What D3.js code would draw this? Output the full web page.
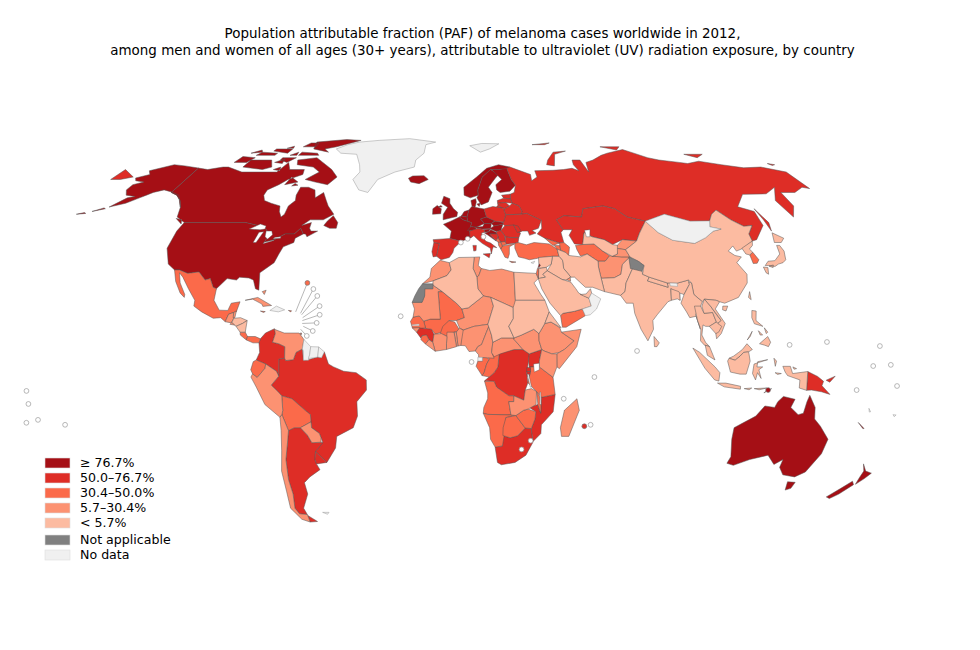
<!DOCTYPE html>
<html><head><meta charset="utf-8">
<script src="https://cdn.jsdelivr.net/npm/d3@7"></script>
<style>html,body{margin:0;background:#fff}svg{display:block}text{font-family:"DejaVu Sans";fill:#000}</style>
</head><body><svg id="c" width="980" height="650"></svg>
<script>
const titleLines=["Population attributable fraction (PAF) of melanoma cases worldwide in 2012,","among men and women of all ages (30+ years), attributable to ultraviolet (UV) radiation exposure, by country"];
const legendLabels=["≥ 76.7%","50.0–76.7%","30.4–50.0%","5.7–30.4%","< 5.7%","Not applicable","No data"];
const classColors=["#a50f15","#de2d26","#fb6a4a","#fc9272","#fcbba1","#808080","#f0f0f0"];
const plen=[0,.062,.124,.186,.248,.31,.372,.434,.4958,.5571,.6176,.6769,.7346,.7903,.8435,.8936,.9394,.9761,1];
const plat=[1,.9986,.9954,.99,.9822,.973,.96,.9427,.9216,.8962,.8679,.835,.7986,.7597,.7186,.6732,.6213,.5722,.5322];

// Country outlines, lon,lat; "|" separates rings. One table per PAF class.
const classTop={
Canada:"-141,69.6 -135,69 -128,70 -125,70 -115,68 -108,68 -102,68 -96,68 -94,72 -90,69 -85,69 -82,69 -81,67 -87,65 -90,63 -94,61 -94,59 -92,57 -88,56 -83,55 -82,53 -80,51 -79,52 -79,55 -77,57 -78,59 -78,62 -74,62 -70,61 -68,58 -65,60 -62,57 -60,55 -56,52 -60,50 -66,50 -69,48 -65,49 -65,47 -64,46 -61,46 -65,44 -66,45 -67,45 -69,47 -71,45 -75,45 -79,43 -83,42 -82,45 -85,47 -89,48 -95,49 -123,49 -128,51 -130,54.5 -133,57 -137,59 -141,60|-62,66 -65,63 -72,64 -78,65 -73,68 -78,70 -88,71 -90,73 -80,74 -72,71 -67,69|-117,70 -105,69 -101,70 -105,73 -117,73|-62,82.5 -72,83 -90,81.5 -87,78 -76,76.5 -80,78 -74,79|-125,72 -118,72 -116,74 -124,74.5|-92,75 -80,75 -82,76 -92,76.5|-100,73 -95,72 -92,74 -100,74|-95,79 -87,79 -88,81 -93,81|-117,75 -106,75 -106,76 -116,76.5|-87,63 -81,64 -86,66|-59,48 -56,47 -53,47 -53,49 -56,51.5 -58,49.5|-128,50.5 -124,48.5 -125,50|-110,77 -100,76 -100,78 -110,78|-122,76 -116,76.5 -118,77.5|-104,78.3 -100,78.3 -101,79.3|-99,69 -95,68.5 -96,70|-83,62.5 -80,62.8 -82,63.5|-102,72 -97,71.5 -98,73.5|-97,75 -93,75 -94,76.5",
"United States":"-123,49 -95,49 -89,48 -85,47 -82,45 -83,42 -79,43 -75,45 -71,45 -69,47 -67,45 -70,43.5 -70,42 -74,40.5 -75,38 -76,35 -81,31.5 -80,25.5 -81.5,26 -83,29 -85,29.7 -89,30 -90,29 -94,29.5 -97.5,26 -99,26.5 -101,29.5 -103,29 -106.5,31.8 -111,31.3 -115,32.5 -117,32.5 -120.5,34.5 -124,40 -124,46|-141,69.6 -141,60 -137,59 -133,57 -130,54.5 -132,56 -136,59 -140,60 -146,61 -150,60 -152,59 -154,58 -158,56 -164,54.6 -160,58 -157,58.5 -162,59 -165,61 -165,63 -161,64 -166,64.5 -168,65.6 -163,67 -166,68.5 -157,71 -150,70.5|-170,53 -165,54 -166,54.3|-176,52 -172,52.3 -173,52.6",
Australia:"114,-22 114,-26 115.7,-32 115,-34.3 118,-35 124,-33 131,-31.5 135,-34.7 138,-33 138,-35.7 141,-38.3 146.5,-39 150,-37.3 153,-31 153.5,-26 149,-21.5 146,-19 145.3,-15 142.5,-10.8 141.7,-13 141,-17 139,-17.5 135.5,-15 136.8,-12.2 132,-11.2 130,-13 129,-15 125,-14.5 122,-18 117,-20.5|144.7,-40.7 148.2,-40.9 148,-43 146,-43.6",
"New Zealand":"172.7,-34.5 175.5,-37 178.5,-37.7 177,-39.6 175,-41.6 174.6,-39 174.7,-37|172.7,-40.5 174.3,-41.7 171,-45 168.5,-46.6 166.5,-46 170,-43",
Iceland:"-24,65.5 -22,66.4 -16,66.5 -13.5,65 -18,63.4 -22.5,64",
Ireland:"-10,52 -6.2,52.2 -6,54 -8,55.2 -10,54",
"United Kingdom":"-5,50 1.3,51.2 1.7,52.7 -0.2,54 -2,56 -2,57.7 -5,58.6 -6,56 -3,54.5 -5,52|-7.5,54.6 -5.6,54.6 -6.2,55.2",
France:"-1.8,43.4 3.2,42.4 7.5,43.7 7,46 8,49 4.2,50 2.5,51 -1.5,49.5 -4.8,48.4 -1.2,46",
Norway:"5,59 5,62 12,66 18,69.5 25,71 31,70 29,69 25,69 20,69 15,66 12,61 12,59 8,58",
Sweden:"12,59 12,61 15,66 20,69 23.9,67 22,65.7 17.5,62 19,60 16.6,56.5 13,55.4 11.2,58",
Finland:"20.5,69 25,69 29,69.5 30,65 31.5,62.8 28,60.5 23,60 21.5,61 21.5,63 25,65 24,66",
Denmark:"8.2,57 8.6,54.9 10,54.5 10.8,56.5 10.6,57.7|11,55.7 12.6,56 12,54.8",
Germany:"6,51 7,53.5 8.6,54.9 10,54.5 14.2,53.9 15,51 12.2,50.3 13.8,48.7 10,47.3 7.6,47.6 8,49 6.2,49.5",
Netherlands:"3.4,51.4 4.8,53 7,53.5 6,51",
Belgium:"2.5,51 3.4,51.4 6,51 6.2,49.5 4.2,50",
Switzerland:"6,46.2 7.6,47.6 9.6,47.4 10.3,46.5 8.5,46",
Austria:"9.6,47.4 13,47.6 13.8,48.7 17,48.7 16.5,46.8 12.5,46.7 10.5,46.9",
Czechia:"12.2,50.3 15,51 18.8,49.7 17,48.7 13.8,48.7",
Slovakia:"17,48.7 18.8,49.6 22.5,49 22.2,48.4 18,47.8",
Hungary:"16.2,46.8 18,47.8 22.2,48.4 21,46.2 18.8,45.9",
Slovenia:"13.6,45.6 13.7,46.6 16.2,46.7 15.5,45.8",
Croatia:"13.6,45.3 15.5,45.8 16.5,46.5 19,45.5 19,45 15.8,45 18.5,42.5 15,44.6"
};
const classHigh={
Russia:"28,59.4 30,60 31.5,62.8 30,65 29,69.5 31,70 41,67 40.5,64.5 44,66 44,68.5 54,68.7 60,69 65,69.5 68,68.5 67,71 68,73 72.5,73 73,68 75,72 80,73 87,75 92,76 104,77.7 107,76.5 113,74 118,73 128,72 132,71.5 140,72.5 150,71 160,69.7 170,70 180,68 180,61.5 177,62 170,60 163,60 162,55 157,51 156,57 163,62 155,59.5 143,59.3 135,54.7 141,53 140,48 133,43 130.7,42.5 131,45 135,48 131,47.7 127,50 123.5,53.5 120,52 117,49.6 108,49.5 98,52 87.5,49.5 80,51 76,54 71,55 61,54 59,51 51,51.5 47,50 49,46.5 47.7,45.5 48,42 46,41.8 40,43.5 37,45 39.5,47 40,49.8 34,52.3 31,52 32,53 31,55 28,56 27.5,57.6|-180,69 -170,66 -175,65 -180,65|142,54 143.5,49 142,46 142,50|52,71 56,70.5 60,75.5 68,77 60,76.5 54,73|20,54.4 22.8,54.3 21,55.3|50,80 62,81 58,80|92,79 104,79 100,77.5|137,75.5 148,75.5 142,74|177,71.5 180,71 178,70.7",
Kazakhstan:"47,50 51,51.5 59,51 61,54 71,55 76,54 80,51 87.5,49.5 82.5,45.2 80,42.5 74,43 69,41.3 66,43 61,44 58,45.5 56,41.3 52.5,41.5 51,44.5 53,46.5 49,46.5",
Estonia:"23.5,59 28,59.4 27.5,57.6 24.3,57.9",
Latvia:"21,57 24.3,57.9 27.5,57.6 28,56 25,56.3 21,56",
Lithuania:"21,56 25,56.3 26.5,55 24,54 22.8,54.3 21,55.3",
Belarus:"23.5,53.5 24,54 26.5,55 28,56 31,55 32,53 31,52 24,51.8",
Ukraine:"24,51.8 31,52 34,52.3 40,49.8 38,47 35,46.2 36.5,45.3 33.5,44.5 33,46 30.5,46 29,45.4 27.5,48 23,47.9 22.2,48.5",
Poland:"14.2,53.9 18.5,54.8 22.8,54.3 24,54 23.5,53.5 24,51.8 22.7,49.2 19,49.4 15,51",
Romania:"21,46.2 23,47.9 27,48.2 28.2,46 29.6,45.2 28.6,43.7 25,43.7 22.7,44",
Moldova:"27,48.2 29,47.8 30,46 28.2,45.5",
Bulgaria:"22.7,44 25,43.7 28.6,43.7 28,42 26.3,41.7 22.8,41.4 22.4,42.3",
Serbia:"19,45.9 21,46.2 22.5,44.3 22.4,42.3 20.5,42.2 19.3,43.5 19.5,44 19,45",
Bosnia:"15.8,45 19,45 19.5,44 18.5,42.6",
Portugal:"-9.5,38.8 -8.8,42 -6.3,41.7 -7,39 -7.4,37.2 -8.9,37",
Spain:"-9.2,43 -1.8,43.4 3.2,42.4 0,40 -0.5,38.5 -2,36.8 -5.5,36 -7.4,37.2 -7,39 -6.3,41.7 -8.8,42",
Italy:"7,44 7,46 10.5,46.9 12.5,46.7 13.7,46.5 13.6,45.6 12.3,45.3 12.5,44 14,42.4 16,41.8 18.5,40.2 17,40.5 16.5,39.5 16,38 15.7,40 12.3,41.7 10.5,43 8.8,44.4 7.5,43.7|12.5,38 15.6,38.2 15,36.7|8.2,41 9.7,41 9.5,39.2 8.5,39",
Brazil:"-51.7,4.2 -50,0 -48,-1 -44,-2.5 -39,-3 -35,-5.5 -35,-9 -39,-13 -39,-18 -41,-22 -48,-25 -49,-29 -53.5,-34 -57.5,-30.2 -54,-27 -54.5,-25.5 -55,-24 -58,-22 -58,-17.5 -60,-16 -65,-12 -69,-11 -70.5,-9.5 -73,-7.3 -69.9,-4.2 -69.8,1.7 -67.5,2 -67,1.2 -64,1.5 -63,4 -60.5,5.2 -60,1.3 -58,1.5 -54.3,2.4 -52.8,2.2",
Colombia:"-77.4,8.7 -75.5,10.7 -72,12.2 -71.5,10.5 -72.5,7.5 -70,7 -67.5,6 -67.5,2 -69.8,1.7 -69.9,-4.2 -70.8,-2.5 -75,0 -78.8,1.4 -77.5,4 -77.9,7.3",
Argentina:"-67.5,-23 -65,-22 -62.5,-22 -60,-24.5 -58.5,-27.2 -54.7,-27 -54,-27.2 -57.5,-30.2 -58.3,-33 -58,-34.5 -57,-36.5 -62,-39 -65,-41 -65,-45 -69,-50 -68.5,-52.3 -72,-52 -73,-50 -71.5,-45 -71.5,-40 -70.5,-33 -68.5,-27|-68.5,-52.6 -65,-54.8 -68.6,-55",
Uruguay:"-57.5,-30.2 -53.5,-34 -58,-34.5 -58.3,-33",
"South Africa":"17,-28.7 20,-28.3 20,-24.7 23,-25.5 26,-24.8 29,-22.1 31.5,-22.3 32.5,-27 30,-31.5 25.7,-34 20,-34.8 18.3,-34",
Mozambique:"40.5,-10.5 35,-11.5 35,-14.5 35,-17 33.7,-14 30.3,-15 33,-16.5 32.8,-19 31.5,-22.3 32.5,-26.8 35.5,-24 35.5,-21 40,-16.5",
"DR Congo":"12.2,-6 13,-5.8 16,-6 17,-8 22,-11 24,-11 28,-12.5 28.5,-9 29.5,-6.5 29,-3 29.7,1 30,3.5 27.5,5 24,5 19,4.5 18,3.5 17.5,-1 16,-3 14,-4.5 12.2,-5.8",
Uganda:"30,3.5 35,5 34,1 34,-1 30,-1 29.7,1",
Guinea:"-15,11 -13.3,9 -12.7,9.8 -11,10 -10,8.4 -8.5,7.5 -8,10.3 -9,12 -11.4,12.3 -13.7,12.6",
"Papua New Guinea":"141,-2.6 145,-4.3 147.5,-6 147,-7.5 150.5,-10.5 147,-9.6 143,-9 141,-9.1|148.5,-5.6 152,-4.2 150,-6.3"
};
const classMid={
Mexico:"-117,32.5 -115,32.5 -111,31.3 -106.5,31.8 -103,29 -101,29.5 -99,26.5 -97.5,26 -97.7,22 -95,18.6 -91.5,18.5 -90.5,21 -87,21.5 -88,18 -89,17.8 -91,17.2 -92,14.6 -94,16 -97,15.8 -102,18 -105.5,20 -105.5,22 -109,26 -112.5,30 -114.5,31.5 -113,28 -110,24 -110,23 -112,24.5 -115,28.5",
"Costa Rica":"-85.7,11 -83.6,11 -82.6,9.5 -83,8.3 -85.5,10",
Panama:"-83,8.3 -82.6,9.5 -79.5,9.5 -77.4,8.7 -77.9,7.3 -80.3,7.3",
Jamaica:"-78.3,18.3 -76.3,18.1 -77,17.8",
Ecuador:"-80,0.8 -78.8,1.4 -75,0 -75.3,-1.5 -78.5,-4.7 -80.3,-3.4 -81,-2",
Bolivia:"-69,-11 -65,-12 -60,-16 -58,-17.5 -58,-20 -62.5,-22 -65,-22 -67.5,-23 -69.5,-17.5 -69,-16",
Turkey:"26.3,40 26.5,41.7 28,42 31.5,41.2 35,42 41.5,41.5 44.5,39.7 44.8,37.2 42,37.2 36.5,36.7 35.5,36.5 32,36 30,36.5 27.5,37",
Greece:"20.2,39.7 21,40.8 26.3,41.5 24,40.5 23.7,38 23,36.5 21.7,36.9 21,38.3|23.5,35.5 26.2,35.2 24.5,35",
Albania:"19.3,42.2 20.5,42 21,40.8 20.2,39.7 19.4,41",
Macedonia:"20.5,42.2 22.4,42.3 22.8,41.4 21,40.9",
Montenegro:"18.5,42.6 19.5,44 19.3,43.5 20.5,42.2 19.3,42.2",
Mali:"-12.2,14.8 -9.5,15.5 -5.5,15.5 -6.5,25 -4.8,25 1,21 3.2,19 4.2,16 1,15 -2,15 -5,11 -7.5,10.3 -9,12 -11.4,12.3",
Senegal:"-17.5,14.7 -16.5,16.2 -14,16.6 -12.2,14.8 -11.4,12.4 -16.7,12.4",
"Sierra Leone":"-13.3,8.5 -11.4,6.9 -10,8.4 -11,10 -12.7,9.8",
"Burkina Faso":"-5.5,10.5 -2.8,9.6 0,11 2.4,11.5 0.3,14.5 -2,15 -4.5,13",
Gabon:"8.8,-0.8 9.5,1 11.3,1 11.3,2.3 13.3,2.2 14,1.5 13,0 12,-3 11.2,-4",
Congo:"11.2,-4 14,-4.5 16,-3 17.5,-1 18,3.5 16,3.5 13.5,3 14,1.5 13,0 12,-3",
Angola:"11.8,-17 13.5,-17.4 23,-17.6 22,-13 24,-13 24,-11 22,-11 17,-8 16,-6 12.2,-6 13.5,-10 13.5,-12 12,-15",
Namibia:"11.8,-17 13.5,-17.4 23,-17.6 25,-17.8 21,-18.5 21,-22 20,-28.3 17,-28.7 15,-26 14.5,-22",
Botswana:"20,-22 21,-18.5 25,-17.8 29,-22.1 26,-24.8 23,-25.5 20,-24.7",
Zimbabwe:"25,-17.8 28,-16 30,-15.6 33,-16.5 32.8,-19 31.5,-22.3 29,-22.1",
Tanzania:"34,-1 39.5,-4.6 40.5,-10.5 35,-11.5 33,-9.5 29.5,-6.5 30.5,-2.5 30,-1",
Malawi:"33,-9.5 34.5,-11.5 35,-14.5 35,-17 33.7,-14",
Yemen:"43,16.7 44,17.5 48.7,18.2 52,19 53,16.7 45,12.7 43.5,12.7",
Turkmenistan:"52.8,41 56,41.3 61,41.5 64,39 66.5,37.4 64,35.5 61,35.5 57,38 54,37.3 53,39.5",
Georgia:"40,43.5 46,41.8 43,41",
Armenia:"43.5,41 46,41 46,39 44.5,39.7",
Azerbaijan:"46,41.8 48,42 50,40.4 49,37.5 48,38.5 46,39.3 46,41",
"South Korea":"126.5,37.7 128.3,38.6 129.4,36 128,34.8 126.3,34.7"
};
const classLow={
Guatemala:"-92,14.6 -91,17.2 -89,17.8 -88.7,15.8 -89.5,14.2",
Belize:"-89,17.8 -88,18.4 -88.3,16 -89,16",
"El Salvador":"-90,13.7 -89.3,14.4 -87.8,13.4",
Cuba:"-85,22 -80,23 -74,20.2 -77.5,19.9 -78,20.7 -82,22.4",
Venezuela:"-72,12 -68,10.7 -62,10.7 -60,8.5 -60.5,5.2 -63,4 -64,1.5 -67,1.2 -67.5,2 -67.5,6 -70,7 -72.5,7.5 -71.5,10.5",
Peru:"-81,-4.5 -80.3,-3.4 -78.5,-4.7 -75.3,-1.5 -75,0 -70.8,-2.5 -69.9,-4.2 -73,-7.3 -70.5,-9.5 -69,-11 -69,-16 -69.5,-17.5 -70.4,-18.4 -76,-14 -79,-8",
Paraguay:"-58,-20 -58,-22 -55,-24 -54.5,-25.5 -54.7,-27 -58.5,-27.2 -60,-24.5 -62.5,-22",
Chile:"-69.5,-17.5 -67.5,-23 -68.5,-27 -70.5,-33 -71.5,-40 -71.5,-45 -73,-50 -72,-52 -68.5,-52.3 -68.6,-55 -72,-54 -75,-50 -74,-44 -73.5,-37 -71.5,-30 -70.5,-23 -70.4,-18.4",
Morocco:"-5.9,35.8 -2,35 -1.2,32.5 -3,30.5 -8.7,28.7 -13,27.7 -10,30 -9.5,33",
Mauritania:"-17,21.3 -13,21.3 -12,23.5 -12,26 -8.7,26 -8.7,27.3 -4.8,25 -6.5,25 -5.5,15.5 -9.5,15.5 -12.2,14.8 -14,16.6 -16.5,16.2 -16,19",
Tunisia:"8.6,36.9 11,37 10.2,34 11.5,33 10.3,30.5 9.5,30 8,33",
Libya:"11.5,33 15,32.3 20,32.8 25,31.7 25,20 24,19.5 15,23 12,23.5 9.8,26 9.5,30 10.3,30.5",
Niger:"3.2,19 5.8,19.4 12,23.5 15,23 16,20 13.6,13.7 8,13 3.7,11.7 2.2,12.5 1,15 4.2,16",
Nigeria:"2.7,6.4 2.8,12 3.7,11.7 8,13 13.6,13.7 14,13 13,11 11,6.7 9.5,6 8.5,4.5 6,4.3 4.5,6.3",
Benin:"1.6,6.2 2.7,6.4 3.7,11.7 2.2,12.4 0.9,11",
Togo:"1,6.1 1.6,6.2 0.9,11 0,11",
Ghana:"-3,5 1,6 0,11 -2.8,11 -3,7",
"Cote d'Ivoire":"-7.5,4.4 -3,5 -3,7 -2.8,9.5 -5,10.5 -8,10.3 -8.5,7.5",
Liberia:"-11.4,6.9 -7.5,4.4 -8.5,7.5 -10,8.4",
"Guinea-Bissau":"-16.7,12.4 -13.7,12.6 -15,11",
Cameroon:"8.5,4.5 9.8,3.2 9.8,2.3 16,2 15,4 15.5,7.5 15,10 14,13 13,11 11,6.7 9.5,6",
CAR:"15,4 16,2.5 18.5,3.5 24,5 27.5,5 24,8.5 24,9 19,9 15.5,7.5",
"South Sudan":"24,9 27,10 32,12 34,10.5 34,8 35,5 30,3.5 27.5,5 24,8.5",
Ethiopia:"34,10.5 36.5,14 39,14.5 42.5,12.5 43,11 48,8 44,5 42,4 39,3.5 35.9,4.5 35,5 34,8",
Somalia:"43,11 51,12 49,6 42,-1.6 41,-1 41,3.5 42,4 44,5 48,8",
Kenya:"35,5 35.9,4.5 39,3.5 41,3.5 41,-1 39.5,-4.6 34,-1 34,1",
Zambia:"22,-13 24,-13 24,-11 28,-12.5 28.5,-9 31,-8.5 33,-9.5 33,-14 30,-15.5 28,-16 25,-17.8 23,-17.6",
Madagascar:"49.3,-12 50.5,-16 47,-25 44,-25 43.3,-22 44.5,-16",
Afghanistan:"61,35.5 64,35.5 66.5,37.4 71.5,37 75,37 71,34.4 69.5,31 66.5,29.8 61,29.6 60.7,33.5",
Kyrgyzstan:"69.5,40 74,43 80,42.5 74,39.5",
Tajikistan:"67.5,37.2 70,38 70,40 74,39.5 75,37 71.5,37"
};
const classBottom={
Algeria:"-1.2,32.5 -2,35 2,36.8 8.6,36.9 8,33 9.5,30 9.8,26 12,23.5 5.8,19.4 3.2,19 1,21 -4.8,25 -8.7,27.3 -8.7,28.7 -3,30.5",
Egypt:"25,31.7 34.2,31.3 34.9,29.5 33,28 35.5,24 37,22 25,22",
Chad:"15,23 24,19.5 23.9,15.7 22,13 24,9 19,9 15.5,7.5 15,10 13.6,13.7 16,20",
Sudan:"24,19.5 25,22 37,22 38.5,18 36.5,14 34,10.5 32,12 27,10 24,9 22,13 23.9,15.7",
Eritrea:"36.5,14 38.5,18 43,12.5 39,14.5",
Honduras:"-89.3,14.4 -88.7,15.8 -86,16 -83.2,15 -85,14 -87.5,13",
Nicaragua:"-87.5,13 -85,14 -83.2,15 -83.6,11 -85.7,11",
Uzbekistan:"56,41.3 58,45.5 61,44 66,43 69,41.3 71,41 70,38 67.5,37.2 64,39 61,41.5",
Pakistan:"61,29.6 66.5,29.8 69.5,31 71,34.4 75,37 77,35 74.5,32.5 71,28 70,25 68,23.7 61.6,25",
Iran:"44.8,37.2 44.5,39.7 48,38.5 49,37.5 54,37 57,38 61,35.5 60.7,33.5 61,29.6 61.6,25 57,26.5 54,26.5 50,30 48.5,30 46,33 46,35.8",
Iraq:"42,37.2 44.8,37.2 46,35.8 46,33 48.5,30 46.5,29 44.7,29.2 39,32.2 41,34.5",
Syria:"36,36.8 42,37.2 41,34.5 38.8,33.4 36,33 35.8,34.7",
Jordan:"35,29.5 35.5,33 36,33 38.8,33.4 39,32.2 37,31 38,30",
"Saudi Arabia":"34.9,29.5 38,30 37,31 39,32.2 44.7,29.2 48.2,28.3 50,26 51,24.5 55,22.7 55.7,20 52,19 48.7,18.2 44,17.5 43,16.7 39,21 36,26",
UAE:"51.6,24 55,22.7 56.3,24.5 56,26 54,24.2",
India:"68,23.7 70,25 71,28 74.5,32.5 77,35 79,34 78.5,31 81,30 80,28.7 88,26.5 88,28 92,27.9 97,29 97,27.5 94,24 92.3,24.5 92,22 91.5,24.5 89,26 88.5,22 87,21.5 82,17 80,15 80,12 77.5,8 75,12 73,17.5 72.8,21 70,21",
Nepal:"80,28.7 81,30 88,28 88,26.5",
Bangladesh:"88.5,22 89,26 92,25 92.3,24.5 92,22 91,22.5",
"Sri Lanka":"80,9.5 82,7.3 81,6 80,6",
China:"74,39.5 80,42.5 82.5,45.2 87.5,49.5 91,45.5 96,42.8 105,41.7 111,43.7 116,46 120,46.7 115.5,47.5 117,49.6 120,52 123.5,53.5 127,50 131,47.7 135,48 131,45 130.7,42.5 125,40 121.5,39 121,40.8 118,39 120,37.5 122.5,37 119.5,35 122,31 121,28 116,23 110,21 108,21.5 106.7,22 102,22.4 101,21.5 98,24 98,28 97,29 92,27.9 88,28 81,30 78.5,31 80,34 78,35.5 75,37|109,20 111,20 110,18.3 108.7,18.7",
"North Korea":"124.4,40 130.7,42.5 129.7,41 127.5,39.7 128.3,38.6 126.5,37.7 125,38",
Japan:"131,34 133,35.5 136,35.7 139.5,38 140.2,41 141.5,41 142,39 140.8,36 139,35 136.8,34.5 135,33.7 132.5,34|140,42 141.7,45.4 145.3,43.5 143,42|130,33.5 131.8,33.3 131,31 130.2,31.5|132.5,33.8 134.5,34.2 134,33.3",
Taiwan:"121,25 121,22.2 120.1,23",
Myanmar:"92.2,21 94,24 97,27.5 97,28.4 98,28 98,24 101,21.5 100,20 97.5,17 98.8,12 97.7,16.5 95,16 94,18",
Thailand:"97.5,20 100,20 101,17.5 104.5,17.8 105.5,14.5 102.5,13 101,13 100,13.5 99.2,10 100.5,7.5 102,6 100,6.5 98.5,8 99,12 98,15",
Laos:"100.5,20 102,22.4 104,20 106,17 107.5,15 106,14 105.5,14.5 104.5,17.8 101,17.5",
Vietnam:"102,22.4 106.7,22 108,21.5 105.8,19 109,14 107,10.5 105,8.7 104.8,10.5 106,14 107.5,15 104,20",
Cambodia:"102.5,13 105.5,14.5 106,14 107.5,13 106,11 104.8,10.5",
Malaysia:"100.3,6.5 102,6 103.5,2.5 104,1.4 101,3|109.6,2 111.4,2.7 113.5,4 115,5 117,7 119,5 117.5,4.2 115.5,4 114,2.7 112,1.3",
Indonesia:"109,1 109.6,2 112,1.3 114,2.7 115.5,4 117.5,4.2 118,1 116.5,-3.5 114,-3.5 110.2,-2.8|95.3,5.5 98,4 104,-1 106,-3 105.7,-5.9 104,-5.5 100,-1.5|105.2,-6.6 108.5,-6.6 114.5,-7.7 114.5,-8.7 108,-7.9|119.5,0 125,1.5 121,0.8 120.7,-1 123,-1 121.5,-2 122.5,-5 121,-3 120.3,-5.5 119,-3.3|131,-0.8 134,-0.8 135,-3.3 141,-2.6 141,-9.1 138,-8.3 138,-5.5 133,-4 132,-2.8|127.5,2 128.5,1 128,-0.8|128,-3 130.5,-3.3 129,-3.6|116,-8.5 119,-8.3 118,-8.9|120,-8.5 125,-8.3 122,-8.9|124,-10 127,-8.5 124.5,-9.5",
Philippines:"120.5,18.5 122.2,18.3 121.5,15 124,13 120.7,13.9 120,16|122,7 125.5,9.5 126.5,7.5 125.5,6 124,6.5|117.2,8.3 119.5,11.3 118.5,9.5|122,11.5 123.5,10 122.5,10|124.5,12.5 125.7,11 125,10.5"
};
const classNA={
"Western Sahara":"-13,27.7 -8.7,27.7 -8.7,26 -12,26 -12,23.5 -13,21.3 -17,21.3 -16,23.5 -14.5,26",
Kashmir:"74,33 74.5,37 78,35.5 80,34 78.5,32"
};
const classNoData={
Greenland:"-73,78 -68,76 -58,75.5 -53,71 -51,68 -53,65 -48,61 -43,60 -40,65 -32,68 -22,70 -22,73 -18,76 -18,80 -12,81.5 -30,83.5 -50,82.5 -62,81.5 -68,80",
Svalbard:"10,79.5 18,80.7 29,80.5 22,78 16,76.5",
Mongolia:"87.5,49.5 98,52 108,49.5 117,49.6 115.5,47.5 120,46.7 116,46 111,43.7 105,41.7 96,42.8 91,45.5",
Oman:"52,19 55.7,20 55,22.7 56.3,24.5 59.8,22.5 57.7,19 55,17 53,16.7",
Guyana:"-60,8.5 -57.2,6 -57.5,3.4 -58,1.3 -60,1.3 -60,4.5 -60.5,5.2",
Suriname:"-57.2,6 -54,5.9 -54.3,2.4 -58,1.9 -57.5,3.4",
"French Guiana":"-54,5.9 -51.7,4.2 -52.8,2.2 -54.3,2.4",
Gambia:"-16.8,13.6 -14,13.8 -14,13.2 -16.8,13.2",
"Equatorial Guinea":"9.5,2.3 11.3,2.3 11.3,1 9.5,1",
Bhutan:"89,27 89,28 92,27.9 92,26.8",
Hispaniola:"-74.5,18.5 -72,20 -68.5,18.7 -71,18",
Falklands:"-61,-51.5 -58,-51.5 -59,-52.2"
};
const classTables=[classTop,classHigh,classMid,classLow,classBottom,classNA,classNoData];
const lakes=["-92,46.7 -88,48.5 -85,47.8 -85,46.7 -87,46.5","-87.8,42 -86.5,42 -85,45.8 -87,45.6","-84,46 -81.5,46 -80.5,44.7 -82,43.2 -83.5,44","-83.3,41.6 -79,42.7 -79,42.9 -83,42.1","-79.7,43.3 -76.5,43.5 -76.5,44 -79,43.8","31.7,0 34,0.3 34,-2 32,-2.8","29.2,-3.5 29.8,-3.5 31,-8 30.5,-8","34.3,-9.7 34.7,-9.7 35,-14 34.5,-14","58.5,46.3 61,46.5 60,44 58.5,44"];
// Small territories shown as dots: lon, lat, class index
const islands=[[-171,-9.3,6],[-171,-13.8,6],[-173.5,-20.3,6],[-168.5,-19.3,6],[-158,-21,6],[134,6.6,6],[149,7.6,6],[170,6.2,6],[167,-0.7,6],[174,-0.3,6],[177,-7.6,6],[161,-9,6],[-21.5,16.5,6],[7,0.7,6],[56,-4.5,6],[73,4.5,6],[44,-12,6],[55.5,-21,6],[53,-21.5,1],[28,-29.5,6],[31.5,-26.5,6],[125.6,-9,0],[3,42,6],[6,43.3,6],[13,44,6]];
const calloutNames=["Bermuda","Antigua","Dominica","St Kitts","St Lucia","St Vincent","Barbados","Grenada"];
const calloutFrom=[[-64,18],[-62,17.5],[-61.5,17],[-61,16],[-61,15],[-61,14],[-60.5,13],[-61.5,12]];
const calloutTo=[[-60.5,28],[-57.7,25.9],[-55.8,23.5],[-54.5,20],[-54.2,17],[-55.2,14.2],[-56.6,11.4],[-58.9,9.7]];
const calloutClass=[2,6,6,6,6,6,6,6];
const smallPieces=[["New Caledonia",0,"164,-20.2 167,-22.3 166.5,-22.3"],["Vanuatu",6,"167,-15.3 168,-16.5 167.5,-16.6"],["Fiji",6,"177.3,-17.5 178.6,-17.6 178,-18.2"],["Bahamas",3,"-78.5,25 -77,25.5 -77.5,24"],["Puerto Rico",2,"-67,18.5 -65.7,18.4 -66,18"],["Trinidad",2,"-61.6,10.7 -61,10.7 -61.2,10"],["Israel",2,"34.3,31.3 35,33 35.5,33 35,29.5"],["Lebanon",0,"35.2,33.2 36,34.6 36.4,34"],["Kuwait",3,"46.6,29.1 48.2,29.9 48.2,28.6"],["Rwanda",1,"29,-1.2 30.5,-1.2 30.5,-2.6 29,-2.6"],["Burundi",1,"29,-2.6 30.5,-2.6 30,-4.3 29.3,-4.3"],["Cyprus",6,"32.5,35 34.2,35.5 33.5,34.7"],["Biak",4,"135,-1 136.5,-1.6 135.5,-1.8"]];

const raw=(lam,phi)=>{
  const d=Math.abs(phi)*180/Math.PI,i=Math.min(Math.floor(d/5),17),t=d/5-i;
  const a=plat[i]+(plat[i+1]-plat[i])*t,b=plen[i]+(plen[i+1]-plen[i])*t;
  return [0.8487*a*lam,1.3775*b*Math.sign(phi)];
};
const projection=d3.geoProjection(raw).scale(169.5).translate([454,364]);
const line=d3.line();
const parse=s=>s.split("|").map(r=>r.trim().split(/\s+/).map(p=>p.split(",").map(Number)));
const pathOf=s=>parse(s).map(r=>line(r.map(p=>projection(p)))+"Z").join("");

const svg=d3.select("#c");
svg.append("g").selectAll("text").data(titleLines).join("text")
  .attr("x",482.5).attr("y",(d,i)=>38+i*17).attr("text-anchor","middle").style("font-size","13.45px").text(d=>d);

const countries=classTables.flatMap((t,k)=>Object.entries(t).map(([name,shape])=>({name,shape,k})))
  .concat(smallPieces.map(([name,k,shape])=>({name,shape,k})));
const map=svg.append("g");
map.selectAll("path.country").data(countries).join("path").attr("class","country")
  .attr("d",d=>pathOf(d.shape)).attr("fill",d=>classColors[d.k])
  .attr("stroke",d=>d.k==6?"#999":"#555").attr("stroke-width",.5).attr("stroke-linejoin","round");
map.selectAll("path.lake").data(lakes).join("path").attr("class","lake")
  .attr("d",pathOf).attr("fill","#fff").attr("stroke","#555").attr("stroke-width",.4);
map.selectAll("line.call").data(calloutFrom).join("line").attr("class","call")
  .attr("x1",d=>projection(d)[0]).attr("y1",d=>projection(d)[1])
  .attr("x2",(d,i)=>projection(calloutTo[i])[0]).attr("y2",(d,i)=>projection(calloutTo[i])[1])
  .attr("stroke","#888").attr("stroke-width",.6);
const dots=islands.map(([lon,lat,k])=>({p:[lon,lat],k})).concat(calloutTo.map((p,i)=>({p,k:calloutClass[i]})));
map.selectAll("circle").data(dots).join("circle")
  .attr("cx",d=>projection(d.p)[0]).attr("cy",d=>projection(d.p)[1]).attr("r",2.4)
  .attr("fill",d=>d.k==6?"#fff":classColors[d.k]).attr("stroke",d=>d.k==6?"#999":"#777").attr("stroke-width",.7);

const legendY=d3.scaleOrdinal().domain(legendLabels).range([458,473,488,503,518,535,550]);
const lg=svg.append("g").selectAll("g").data(legendLabels).join("g").attr("transform",d=>`translate(45,${legendY(d)})`);
lg.append("rect").attr("width",25).attr("height",10).attr("fill",(d,i)=>classColors[i]).attr("stroke","#ddd").attr("stroke-width",.6);
lg.append("text").attr("x",35).attr("y",9).style("font-size","12.6px").text(d=>d);
</script></body></html>
